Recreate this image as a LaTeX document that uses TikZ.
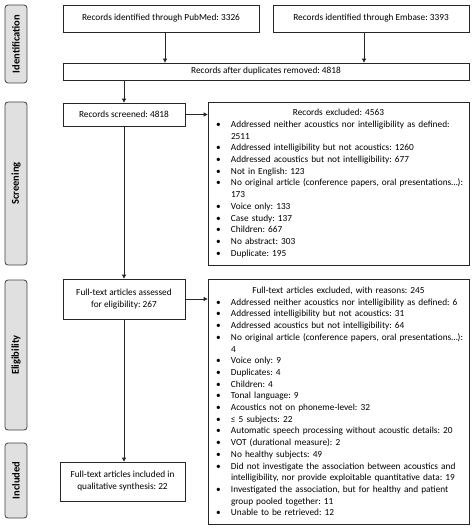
\documentclass[tikz,border=0pt]{standalone}
\usepackage{fontspec}
\setmainfont{Carlito}
\usetikzlibrary{arrows.meta}

\newcommand{\itm}[1]{\mbox{\makebox[15pt][l]{\textbullet}#1}}
\newcommand{\cnt}[1]{\mbox{\hspace*{15pt}#1}}
\newcommand{\hdr}[1]{\makebox[245pt][c]{#1}}
\newcommand{\two}[2]{\begin{tabular}{@{}c@{}}#1\\#2\end{tabular}}

\begin{document}
\frenchspacing
\begin{tikzpicture}[x=1pt,y=-1pt,
    font=\fontsize{9.3}{11.7}\selectfont,
    box/.style={draw=black!85, line width=0.8pt, inner sep=2pt, align=center},
    listbox/.style={box, align=left, inner xsep=8pt, text width=245pt,
      minimum width=261pt},
    phase/.style={draw=black!75, fill=black!12, line width=0.8pt,
      rounded corners=3pt, rotate=90, minimum height=22pt, inner sep=1pt,
      font=\fontsize{10.5}{12}\selectfont\bfseries},
    arr/.style={-{Triangle[length=4pt,width=4pt]}, line width=0.8pt, draw=black!85}]
  \useasboundingbox (0,0) rectangle (474,529);

  % phase labels
  \node[phase, minimum width=78pt] (ident) at (16,44) {Identification};
  \node[phase, minimum width=163pt] (screen) at (16,183.5) {Screening};
  \node[phase, minimum width=150pt] (elig) at (16,355) {Eligibility};
  \node[phase, minimum width=75pt] (incl) at (16,480.5) {Included};

  % flow boxes
  \node[box, minimum width=196pt, minimum height=27pt] (pubmed) at (161,18.5)
    {Records identified through PubMed: 3326};
  \node[box, minimum width=196pt, minimum height=27pt] (embase) at (371,18.5)
    {Records identified through Embase: 3393};
  \node[box, minimum width=406pt, minimum height=17pt] (dupl) at (266,71.5)
    {Records after duplicates removed: 4818};
  \node[box, minimum width=122pt, minimum height=23pt] (screened) at (124,114.5)
    {Records screened: 4818};
  \node[box, minimum width=122pt, minimum height=40pt] (assessed) at (124,299)
    {\two{Full-text articles assessed}{for eligibility: 267}};
  \node[box, minimum width=125pt, minimum height=39pt] (included) at (122.5,481.5)
    {\two{Full-text articles included in}{qualitative synthesis: 22}};

  % exclusion lists
  \node[listbox, minimum height=163pt] (excl1) at (338.5,183.5) {%
    \hdr{Records excluded: 4563}\\
    \itm{Addressed neither acoustics nor intelligibility as defined:}\\
    \cnt{2511}\\
    \itm{Addressed intelligibility but not acoustics: 1260}\\
    \itm{Addressed acoustics but not intelligibility: 677}\\
    \itm{Not in English: 123}\\
    \itm{No original article (conference papers, oral presentations…):}\\
    \cnt{173}\\
    \itm{Voice only: 133}\\
    \itm{Case study: 137}\\
    \itm{Children: 667}\\
    \itm{No abstract: 303}\\
    \itm{Duplicate: 195}};
  \node[listbox, minimum height=245pt] (excl2) at (338.5,401.5) {%
    \hdr{Full-text articles excluded, with reasons: 245}\\
    \itm{Addressed neither acoustics nor intelligibility as defined: 6}\\
    \itm{Addressed intelligibility but not acoustics: 31}\\
    \itm{Addressed acoustics but not intelligibility: 64}\\
    \itm{No original article (conference papers, oral presentations…):}\\
    \cnt{4}\\
    \itm{Voice only: 9}\\
    \itm{Duplicates: 4}\\
    \itm{Children: 4}\\
    \itm{Tonal language: 9}\\
    \itm{Acoustics not on phoneme-level: 32}\\
    \itm{≤ 5 subjects: 22}\\
    \itm{Automatic speech processing without acoustic details: 20}\\
    \itm{VOT (durational measure): 2}\\
    \itm{No healthy subjects: 49}\\
    \itm{Did not investigate the association between acoustics and}\\
    \cnt{intelligibility, nor provide exploitable quantitative data: 19}\\
    \itm{Investigated the association, but for healthy and patient}\\
    \cnt{group pooled together: 11}\\
    \itm{Unable to be retrieved: 12}};

  % connectors
  \draw[arr] ([xshift=4pt]pubmed.south) -- ([xshift=4pt]pubmed.south |- dupl.north);
  \draw[arr] ([xshift=-7pt]embase.south) -- ([xshift=-7pt]embase.south |- dupl.north);
  \draw[arr] (screened.north |- dupl.south) -- (screened.north);
  \draw[arr] (screened.east) -- (screened.east -| excl1.west);
  \draw[arr] (screened.south) -- (assessed.north);
  \draw[arr] (assessed.east) -- (assessed.east -| excl2.west);
  \draw[arr] (assessed.south) -- (assessed.south |- included.north);
\end{tikzpicture}
\end{document}
